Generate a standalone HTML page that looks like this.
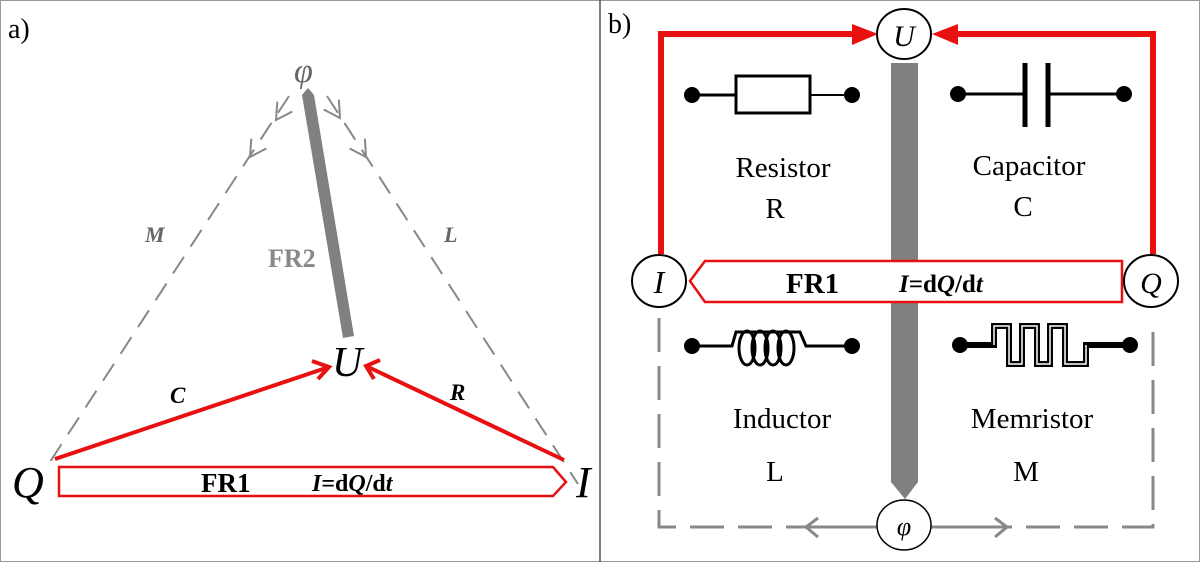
<!DOCTYPE html>
<html><head><meta charset="utf-8"><style>
html,body{margin:0;padding:0;background:#fff}
svg{display:block}
text{font-family:"Liberation Serif",serif}
</style></head><body>
<svg width="1200" height="562" viewBox="0 0 1200 562" xmlns="http://www.w3.org/2000/svg">
<rect x="0.5" y="0.5" width="1199" height="561" fill="#fff" stroke="#999" stroke-width="1"/>
<line x1="600" y1="0" x2="600" y2="562" stroke="#555" stroke-width="1.5"/>
<!-- Panel a -->
<text x="8" y="38" font-size="28">a)</text>
<text x="294" y="82" font-size="34" font-style="italic" fill="#666">φ</text>
<polygon points="302,95 308,88 314,95 354,336 343,338" fill="#808080"/>
<text x="268" y="267" font-size="26" font-weight="bold" fill="#888">FR2</text>
<line x1="289" y1="96" x2="44" y2="471" stroke="#888" stroke-width="2" stroke-dasharray="20,12"/>
<line x1="327" y1="96" x2="578" y2="484" stroke="#888" stroke-width="2" stroke-dasharray="20,12"/>
<path d="M292.3,111.5 L276,120 L277.3,101.7 M266.3,148.5 L250,157 L251.3,138.7" fill="none" stroke="#888" stroke-width="2"/>
<path d="M338.9,99.7 L340,118 L323.7,109.5 M364.9,138.7 L366,157 L349.7,148.5" fill="none" stroke="#888" stroke-width="2"/>
<text x="145" y="242" font-size="22" font-style="italic" font-weight="bold" fill="#666">M</text>
<text x="444" y="242" font-size="22" font-style="italic" font-weight="bold" fill="#666">L</text>
<text x="332" y="376" font-size="42" font-style="italic">U</text>
<line x1="55" y1="459" x2="329" y2="367" stroke="#e81010" stroke-width="4"/>
<path d="M312,361 L329,367 L318,379" fill="none" stroke="#e81010" stroke-width="4"/>
<line x1="564" y1="460" x2="366" y2="366" stroke="#e81010" stroke-width="4"/>
<path d="M380,360 L366,366 L374,379" fill="none" stroke="#e81010" stroke-width="4"/>
<text x="170" y="403" font-size="23" font-style="italic" font-weight="bold">C</text>
<text x="450" y="400" font-size="23" font-style="italic" font-weight="bold">R</text>
<text x="12" y="497" font-size="44" font-style="italic">Q</text>
<text x="576" y="497" font-size="44" font-style="italic">I</text>
<polygon points="59,467 553,467 566,482 553,496 59,496" fill="#fff" stroke="#e81010" stroke-width="2.5"/>
<text x="201" y="492" font-size="27" font-weight="bold">FR1</text>
<text x="312" y="491" font-size="24" font-weight="bold"><tspan font-style="italic">I</tspan>=d<tspan font-style="italic">Q</tspan>/d<tspan font-style="italic">t</tspan></text>

<!-- Panel b -->
<text x="608" y="33" font-size="28">b)</text>
<path d="M659,318 L659,527 L1153,527 L1153,318" fill="none" stroke="#888" stroke-width="3" stroke-dasharray="34,14"/>
<path d="M818,518 L806,527 L818,537 M995,518 L1007,527 L995,537" fill="none" stroke="#888" stroke-width="3"/>
<line x1="806" y1="527" x2="878" y2="527" stroke="#888" stroke-width="3"/>
<line x1="930" y1="527" x2="1006" y2="527" stroke="#888" stroke-width="3"/>
<path d="M661,254 L661,34 L860,34" fill="none" stroke="#e81010" stroke-width="6"/>
<path d="M1153,254 L1153,34 L950,34" fill="none" stroke="#e81010" stroke-width="6"/>
<polygon points="852,24 878,34 852,45" fill="#e81010"/>
<polygon points="958,24 932,34 958,45" fill="#e81010"/>
<polygon points="891,63 918,63 918,482 905,499 891,482" fill="#808080"/>
<ellipse cx="904" cy="34" rx="27" ry="25" fill="#fff" stroke="#000" stroke-width="2"/>
<text x="904" y="46" font-size="30" font-style="italic" text-anchor="middle">U</text>
<ellipse cx="904" cy="525" rx="27" ry="25" fill="#fff" stroke="#000" stroke-width="1.5"/>
<text x="904" y="535" font-size="26" font-style="italic" text-anchor="middle">φ</text>
<polygon points="705,261 1122,261 1122,302 705,302 690,281" fill="#fff" stroke="#e81010" stroke-width="2.5"/>
<text x="786" y="293" font-size="29" font-weight="bold">FR1</text>
<text x="899" y="292" font-size="25" font-weight="bold"><tspan font-style="italic">I</tspan>=d<tspan font-style="italic">Q</tspan>/d<tspan font-style="italic">t</tspan></text>
<ellipse cx="659" cy="281" rx="27" ry="26" fill="#fff" stroke="#000" stroke-width="2"/>
<text x="659" y="293" font-size="32" font-style="italic" text-anchor="middle">I</text>
<ellipse cx="1151" cy="281" rx="27" ry="26" fill="#fff" stroke="#000" stroke-width="2"/>
<text x="1151" y="293" font-size="30" font-style="italic" text-anchor="middle">Q</text>
<!-- resistor -->
<circle cx="692" cy="95" r="8"/><circle cx="852" cy="95" r="8"/>
<line x1="692" y1="95" x2="736" y2="95" stroke="#000" stroke-width="3"/>
<line x1="810" y1="95" x2="852" y2="95" stroke="#000" stroke-width="2"/>
<rect x="736" y="76" width="74" height="37" fill="#fff" stroke="#000" stroke-width="3"/>
<text x="783" y="177" font-size="29" text-anchor="middle">Resistor</text>
<text x="775" y="218" font-size="29" text-anchor="middle">R</text>
<!-- capacitor -->
<circle cx="958" cy="94" r="8"/><circle cx="1124" cy="94" r="8"/>
<line x1="958" y1="94" x2="1025" y2="94" stroke="#000" stroke-width="3"/>
<line x1="1048" y1="94" x2="1124" y2="94" stroke="#000" stroke-width="3"/>
<line x1="1025" y1="63" x2="1025" y2="127" stroke="#000" stroke-width="5"/>
<line x1="1048" y1="63" x2="1048" y2="127" stroke="#000" stroke-width="5"/>
<text x="1029" y="175" font-size="29" text-anchor="middle">Capacitor</text>
<text x="1023" y="216" font-size="29" text-anchor="middle">C</text>
<!-- inductor -->
<circle cx="692" cy="346" r="8"/><circle cx="852" cy="346" r="8"/>
<path d="M692,346 L732,346 L736,332 L800,332 L806,346 L852,346" fill="none" stroke="#000" stroke-width="3"/>
<g fill="none" stroke="#000" stroke-width="3">
<ellipse cx="747" cy="348" rx="8" ry="17"/>
<ellipse cx="760" cy="348" rx="8" ry="17"/>
<ellipse cx="773" cy="348" rx="8" ry="17"/>
<ellipse cx="786" cy="348" rx="8" ry="17"/>
</g>
<text x="782" y="428" font-size="29" text-anchor="middle">Inductor</text>
<text x="775" y="481" font-size="29" text-anchor="middle">L</text>
<!-- memristor -->
<circle cx="960" cy="345" r="8"/><circle cx="1130" cy="345" r="8"/>
<path d="M960,345 L994,345 L994,326 L1009,326 L1009,364 L1022,364 L1022,326 L1037,326 L1037,364 L1050,364 L1050,326 L1065,326 L1065,364 L1086,364 L1086,345 L1130,345" fill="none" stroke="#000" stroke-width="6"/>
<path d="M994,345 L994,326 L1009,326 L1009,364 L1022,364 L1022,326 L1037,326 L1037,364 L1050,364 L1050,326 L1065,326 L1065,364 L1086,364 L1086,345" fill="none" stroke="#fff" stroke-width="1.5"/>
<text x="1032" y="428" font-size="29" text-anchor="middle">Memristor</text>
<text x="1026" y="481" font-size="29" text-anchor="middle">M</text>
</svg>
</body></html>
